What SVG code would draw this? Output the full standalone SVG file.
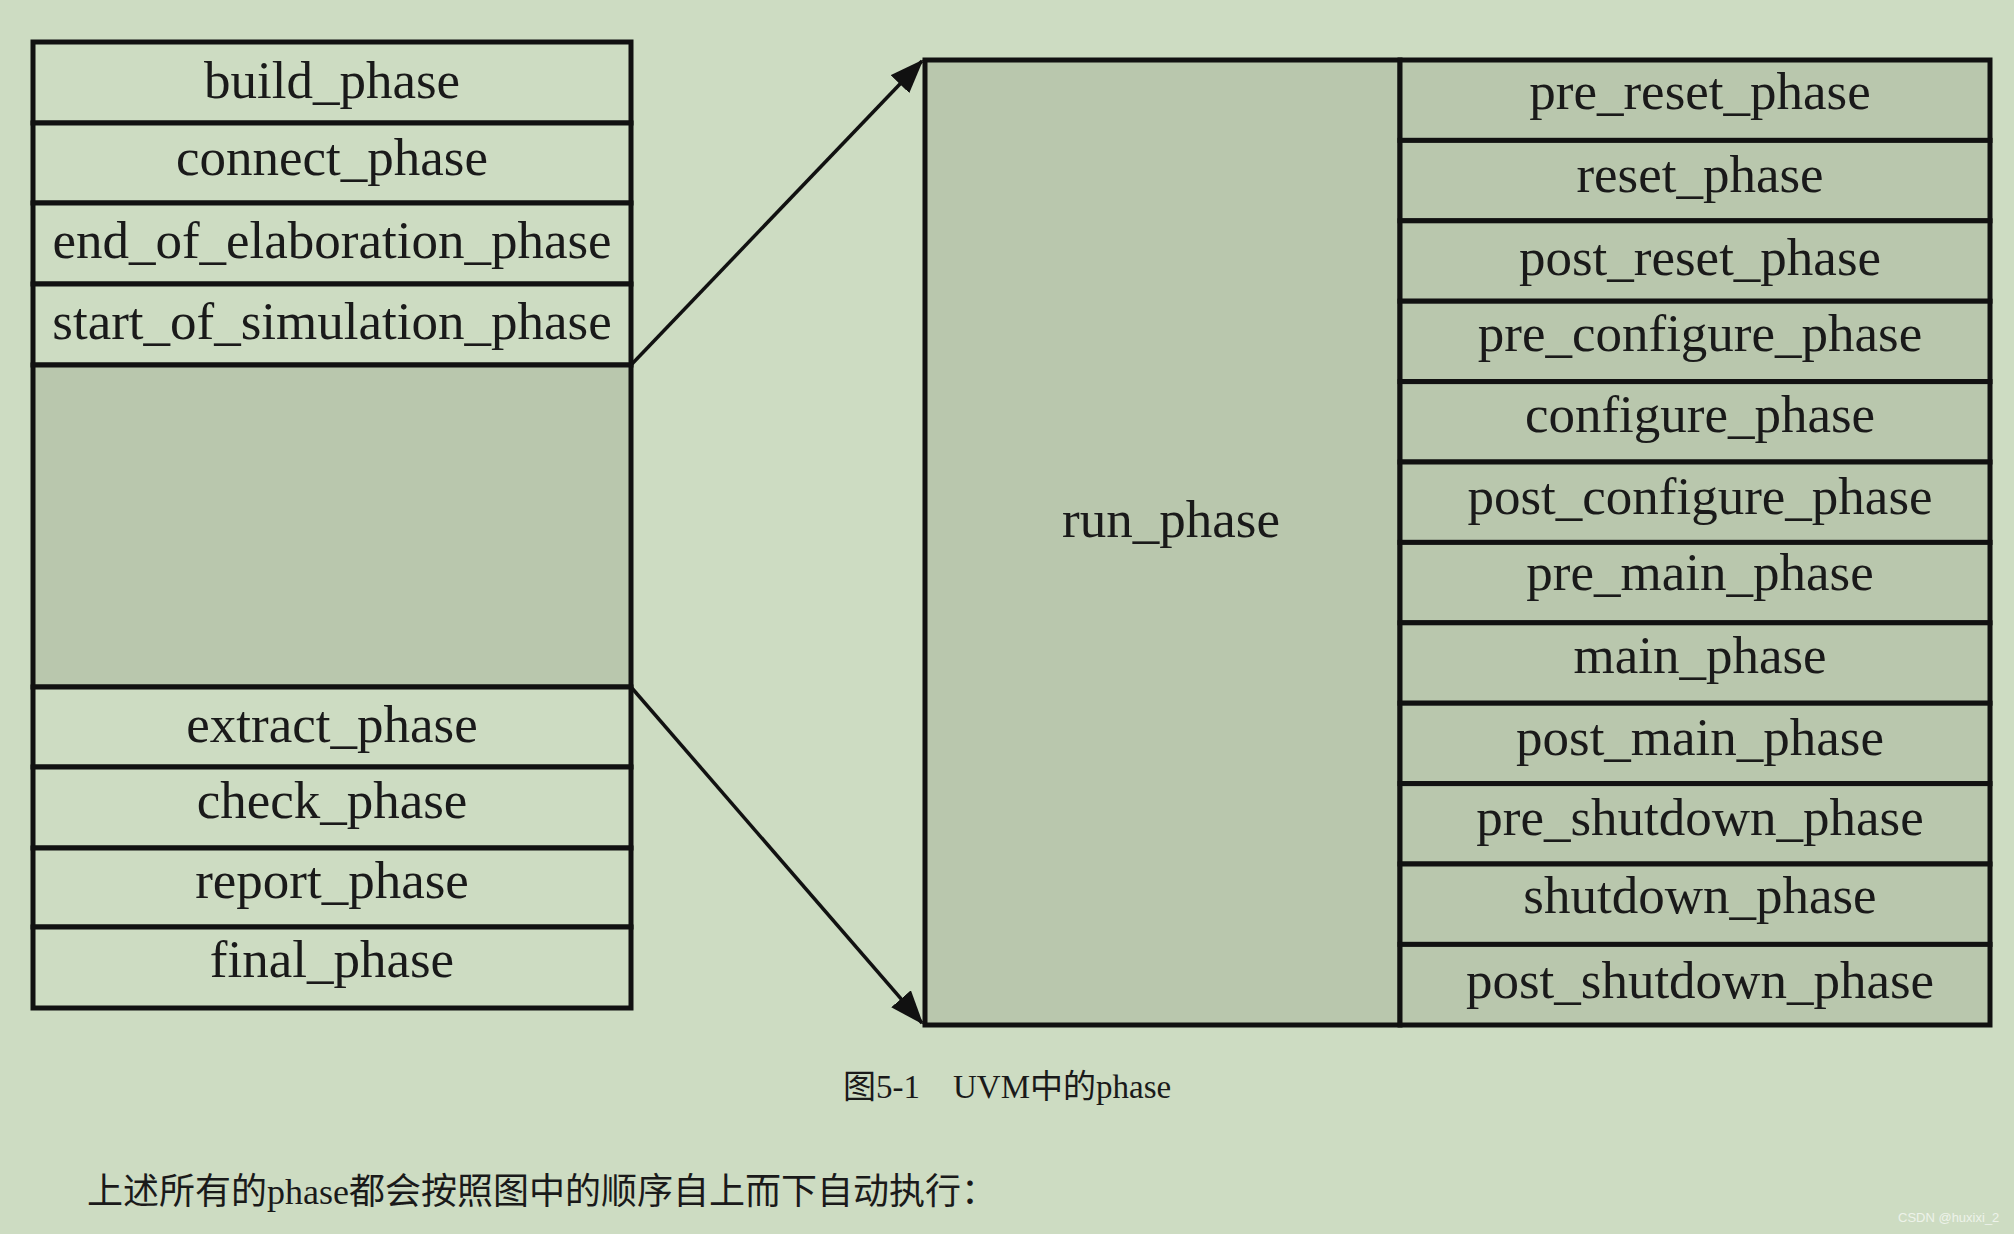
<svg xmlns="http://www.w3.org/2000/svg" width="2014" height="1234" viewBox="0 0 2014 1234">
<style>
.c{stroke:#111;stroke-width:5;}
.l{fill:#cddcc2;}
.g{fill:#b9c7ad;}
.t{font-family:"Liberation Serif",serif;font-size:53px;fill:#1a1a1a;text-anchor:middle;}
.cap{font-family:"Liberation Serif","Noto Sans CJK SC",serif;font-size:33px;fill:#1a1a1a;}
.body{font-family:"Liberation Serif","Noto Sans CJK SC",serif;font-size:36px;fill:#1a1a1a;}
</style>
<defs>
<marker id="big" markerWidth="34" markerHeight="26" refX="32" refY="13" orient="auto" markerUnits="userSpaceOnUse" viewBox="0 0 34 26"><path d="M0,0 L34,13 L0,26 z" fill="#111"/></marker>
</defs>
<rect width="2014" height="1234" fill="#cddcc2"/>
<g id="left">
<g id="build"><rect class="c l" x="33" y="42" width="598" height="81"/><text class="t" x="332" y="98">build_phase</text></g>
<g id="connect"><rect class="c l" x="33" y="123" width="598" height="80"/><text class="t" x="332" y="175">connect_phase</text></g>
<g id="eoe"><rect class="c l" x="33" y="203" width="598" height="81"/><text class="t" x="332" y="258">end_of_elaboration_phase</text></g>
<g id="sos"><rect class="c l" x="33" y="284" width="598" height="81"/><text class="t" x="332" y="339">start_of_simulation_phase</text></g>
<g id="gap"><rect class="c g" x="33" y="365" width="598" height="322"/></g>
<g id="extract"><rect class="c l" x="33" y="687" width="598" height="80"/><text class="t" x="332" y="742">extract_phase</text></g>
<g id="check"><rect class="c l" x="33" y="767" width="598" height="81"/><text class="t" x="332" y="818">check_phase</text></g>
<g id="report"><rect class="c l" x="33" y="848" width="598" height="79"/><text class="t" x="332" y="898">report_phase</text></g>
<g id="final"><rect class="c l" x="33" y="927" width="598" height="81"/><text class="t" x="332" y="977">final_phase</text></g>
</g>
<g id="connectors" stroke="#111" stroke-width="3.5" fill="none">
<path d="M631,365 L922,61" marker-end="url(#big)"/>
<path d="M631,687 L922,1023" marker-end="url(#big)"/>
</g>
<g id="right">
<g id="run"><rect class="c g" x="925" y="60" width="475" height="965"/><text class="t" x="1171" y="537">run_phase</text></g>
<g id="r1"><rect class="c g" x="1400" y="60" width="590" height="80.4"/><text class="t" x="1700" y="109">pre_reset_phase</text></g>
<g id="r2"><rect class="c g" x="1400" y="140.4" width="590" height="80.4"/><text class="t" x="1700" y="192">reset_phase</text></g>
<g id="r3"><rect class="c g" x="1400" y="220.8" width="590" height="80.4"/><text class="t" x="1700" y="275">post_reset_phase</text></g>
<g id="r4"><rect class="c g" x="1400" y="301.2" width="590" height="80.4"/><text class="t" x="1700" y="351">pre_configure_phase</text></g>
<g id="r5"><rect class="c g" x="1400" y="381.6" width="590" height="80.4"/><text class="t" x="1700" y="432">configure_phase</text></g>
<g id="r6"><rect class="c g" x="1400" y="462" width="590" height="80.4"/><text class="t" x="1700" y="514">post_configure_phase</text></g>
<g id="r7"><rect class="c g" x="1400" y="542.4" width="590" height="80.4"/><text class="t" x="1700" y="590">pre_main_phase</text></g>
<g id="r8"><rect class="c g" x="1400" y="622.8" width="590" height="80.4"/><text class="t" x="1700" y="673">main_phase</text></g>
<g id="r9"><rect class="c g" x="1400" y="703.2" width="590" height="80.4"/><text class="t" x="1700" y="755">post_main_phase</text></g>
<g id="r10"><rect class="c g" x="1400" y="783.6" width="590" height="80.4"/><text class="t" x="1700" y="835">pre_shutdown_phase</text></g>
<g id="r11"><rect class="c g" x="1400" y="864" width="590" height="80.4"/><text class="t" x="1700" y="913">shutdown_phase</text></g>
<g id="r12"><rect class="c g" x="1400" y="944.4" width="590" height="80.6"/><text class="t" x="1700" y="998">post_shutdown_phase</text></g>
</g>
<text class="cap" x="843" y="1098" xml:space="preserve">图5-1    UVM中的phase</text>
<text class="body" x="87" y="1204">上述所有的phase都会按照图中的顺序自上而下自动执行：</text>
<text x="1898" y="1222" font-family="Liberation Sans,sans-serif" font-size="13" fill="#eef3ea">CSDN @huxixi_2</text>
</svg>
